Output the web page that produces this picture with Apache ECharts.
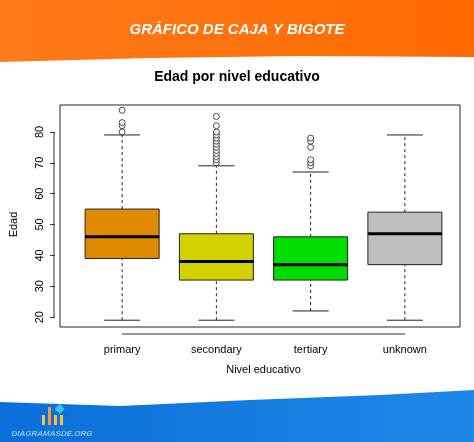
<!DOCTYPE html>
<html><head><meta charset="utf-8">
<script src="https://cdn.jsdelivr.net/npm/echarts@6/dist/echarts.min.js"></script>
<style>html,body{margin:0;padding:0;background:#fff}#c{width:474px;height:442px}</style>
</head><body><div id="c"></div>
<script>
const categories = ['primary','secondary','tertiary','unknown'];
const lowerWhisker = [19, 19, 22, 19];
const q1 = [39, 32, 32, 37];
const median = [46, 38, 37, 47];
const q3 = [55, 47, 46, 54];
const upperWhisker = [79, 69, 67, 79];
const boxColors = ['#E08A00', '#D2D200', '#00DD00', '#BEBEBE'];
const outPrimary = [80, 82, 83, 87];
const outSecondary = [70, 71, 72, 73, 74, 75, 76, 77, 78, 79, 80, 82, 85];
const outTertiary = [69, 70, 71, 75, 77, 78];
const outUnknown = [];
const yTicks = [20, 30, 40, 50, 60, 70, 80];

const outliers = [];
[outPrimary, outSecondary, outTertiary, outUnknown].forEach((arr, i) => arr.forEach(v => outliers.push([i, v])));
const boxData = categories.map((c, i) => [i, lowerWhisker[i], q1[i], median[i], q3[i], upperWhisker[i]]);

const chart = echarts.init(document.getElementById('c'));
const F = 'Liberation Sans, Arial, sans-serif';
chart.setOption({
  animation: false,
  grid: {left: 74, right: 22, top: 101, bottom: 94},
  title: {text: 'Edad por nivel educativo', left: 'center', top: 65,
    textStyle: {fontFamily: F, fontSize: 14, fontWeight: 'bold', color: '#000'}},
  xAxis: {type: 'category', data: categories, offset: -14,
    name: 'Nivel educativo', nameLocation: 'middle', nameGap: 30,
    nameTextStyle: {fontFamily: F, fontSize: 11, color: '#000'},
    axisLine: {show: false},
    axisTick: {alignWithLabel: true, length: 5, lineStyle: {color: '#333'}},
    axisLabel: {fontFamily: F, fontSize: 11, color: '#000', margin: 10}},
  yAxis: {type: 'value', min: 10, max: 90, interval: 10, offset: 20,
    name: 'Edad', nameLocation: 'middle', nameGap: 36,
    nameTextStyle: {fontFamily: F, fontSize: 11, color: '#000'},
    splitLine: {show: false},
    axisLine: {show: false},
    axisTick: {show: true, length: 5, customValues: yTicks, lineStyle: {color: '#333'}},
    axisLabel: {fontFamily: F, fontSize: 11, color: '#000', rotate: 90, margin: 10, customValues: yTicks}},
  series: [
    {type: 'custom', data: boxData,
      renderItem: (params, api) => {
        const i = api.value(0);
        const x = api.coord([i, 0])[0];
        const y = k => api.coord([i, api.value(k)])[1];
        const hw = 37, cw = 18;
        const st = {stroke: '#222', lineWidth: 1};
        return {type: 'group', children: [
          {type: 'line', shape: {x1: x, y1: y(1), x2: x, y2: y(2)}, style: Object.assign({lineDash: [3, 3]}, st)},
          {type: 'line', shape: {x1: x, y1: y(4), x2: x, y2: y(5)}, style: Object.assign({lineDash: [3, 3]}, st)},
          {type: 'line', shape: {x1: x - cw, y1: y(1), x2: x + cw, y2: y(1)}, style: st},
          {type: 'line', shape: {x1: x - cw, y1: y(5), x2: x + cw, y2: y(5)}, style: st},
          {type: 'rect', shape: {x: x - hw, y: y(4), width: 2 * hw, height: y(2) - y(4)},
            style: {fill: boxColors[i], stroke: '#222', lineWidth: 1}},
          {type: 'line', shape: {x1: x - hw, y1: y(3), x2: x + hw, y2: y(3)}, style: {stroke: '#000', lineWidth: 3}}
        ]};
      }},
    {type: 'scatter', data: outliers, symbol: 'circle', symbolSize: 6,
      itemStyle: {color: '#fff', borderColor: '#222', borderWidth: 1}}
  ],
  graphic: [
    {type: 'rect', shape: {x: 60, y: 105, width: 400, height: 222}, style: {fill: 'none', stroke: '#222', lineWidth: 1}, z: 10},
    {type: 'line', shape: {x1: 54, y1: 132, x2: 54, y2: 317}, style: {stroke: '#333', lineWidth: 1}},
    {type: 'line', shape: {x1: 122, y1: 334, x2: 405, y2: 334}, style: {stroke: '#333', lineWidth: 1}},
    {type: 'polygon', shape: {points: [[0,0],[474,0],[474,57],[300,56],[150,58],[0,62]]},
      style: {fill: new echarts.graphic.LinearGradient(0,0,1,0,[{offset:0,color:'#FF7A1A'},{offset:1,color:'#FF6A00'}])}},
    {type: 'text', x: 237, y: 30, style: {text: 'GRÁFICO DE CAJA Y BIGOTE', fill: '#fff',
      font: 'italic bold 15px ' + F, align: 'center', verticalAlign: 'middle'}},
    {type: 'polygon', shape: {points: [[0,402],[120,406],[250,400],[380,395],[474,390],[474,442],[0,442]]},
      style: {fill: new echarts.graphic.LinearGradient(0,0,1,0,[{offset:0,color:'#0A6FD8'},{offset:1,color:'#1E88E8'}])}},
    {type: 'rect', shape: {x: 42, y: 415, width: 3, height: 10}, style: {fill: '#F5C03A'}},
    {type: 'rect', shape: {x: 48, y: 407, width: 3, height: 18}, style: {fill: '#F29A4A'}},
    {type: 'rect', shape: {x: 54, y: 415, width: 3, height: 10}, style: {fill: '#F5C03A'}},
    {type: 'rect', shape: {x: 60, y: 415, width: 3, height: 10}, style: {fill: '#F5C03A'}},
    {type: 'rect', shape: {x: 56, y: 406, width: 7, height: 7}, rotation: Math.PI/4, originX: 59, originY: 409, style: {fill: '#35C7E8'}},
    {type: 'text', x: 52, y: 434, style: {text: 'DIAGRAMASDE.ORG', fill: '#8EC8F0',
      font: 'italic bold 8px ' + F, align: 'center', verticalAlign: 'middle'}}
  ]
});
</script></body></html>
